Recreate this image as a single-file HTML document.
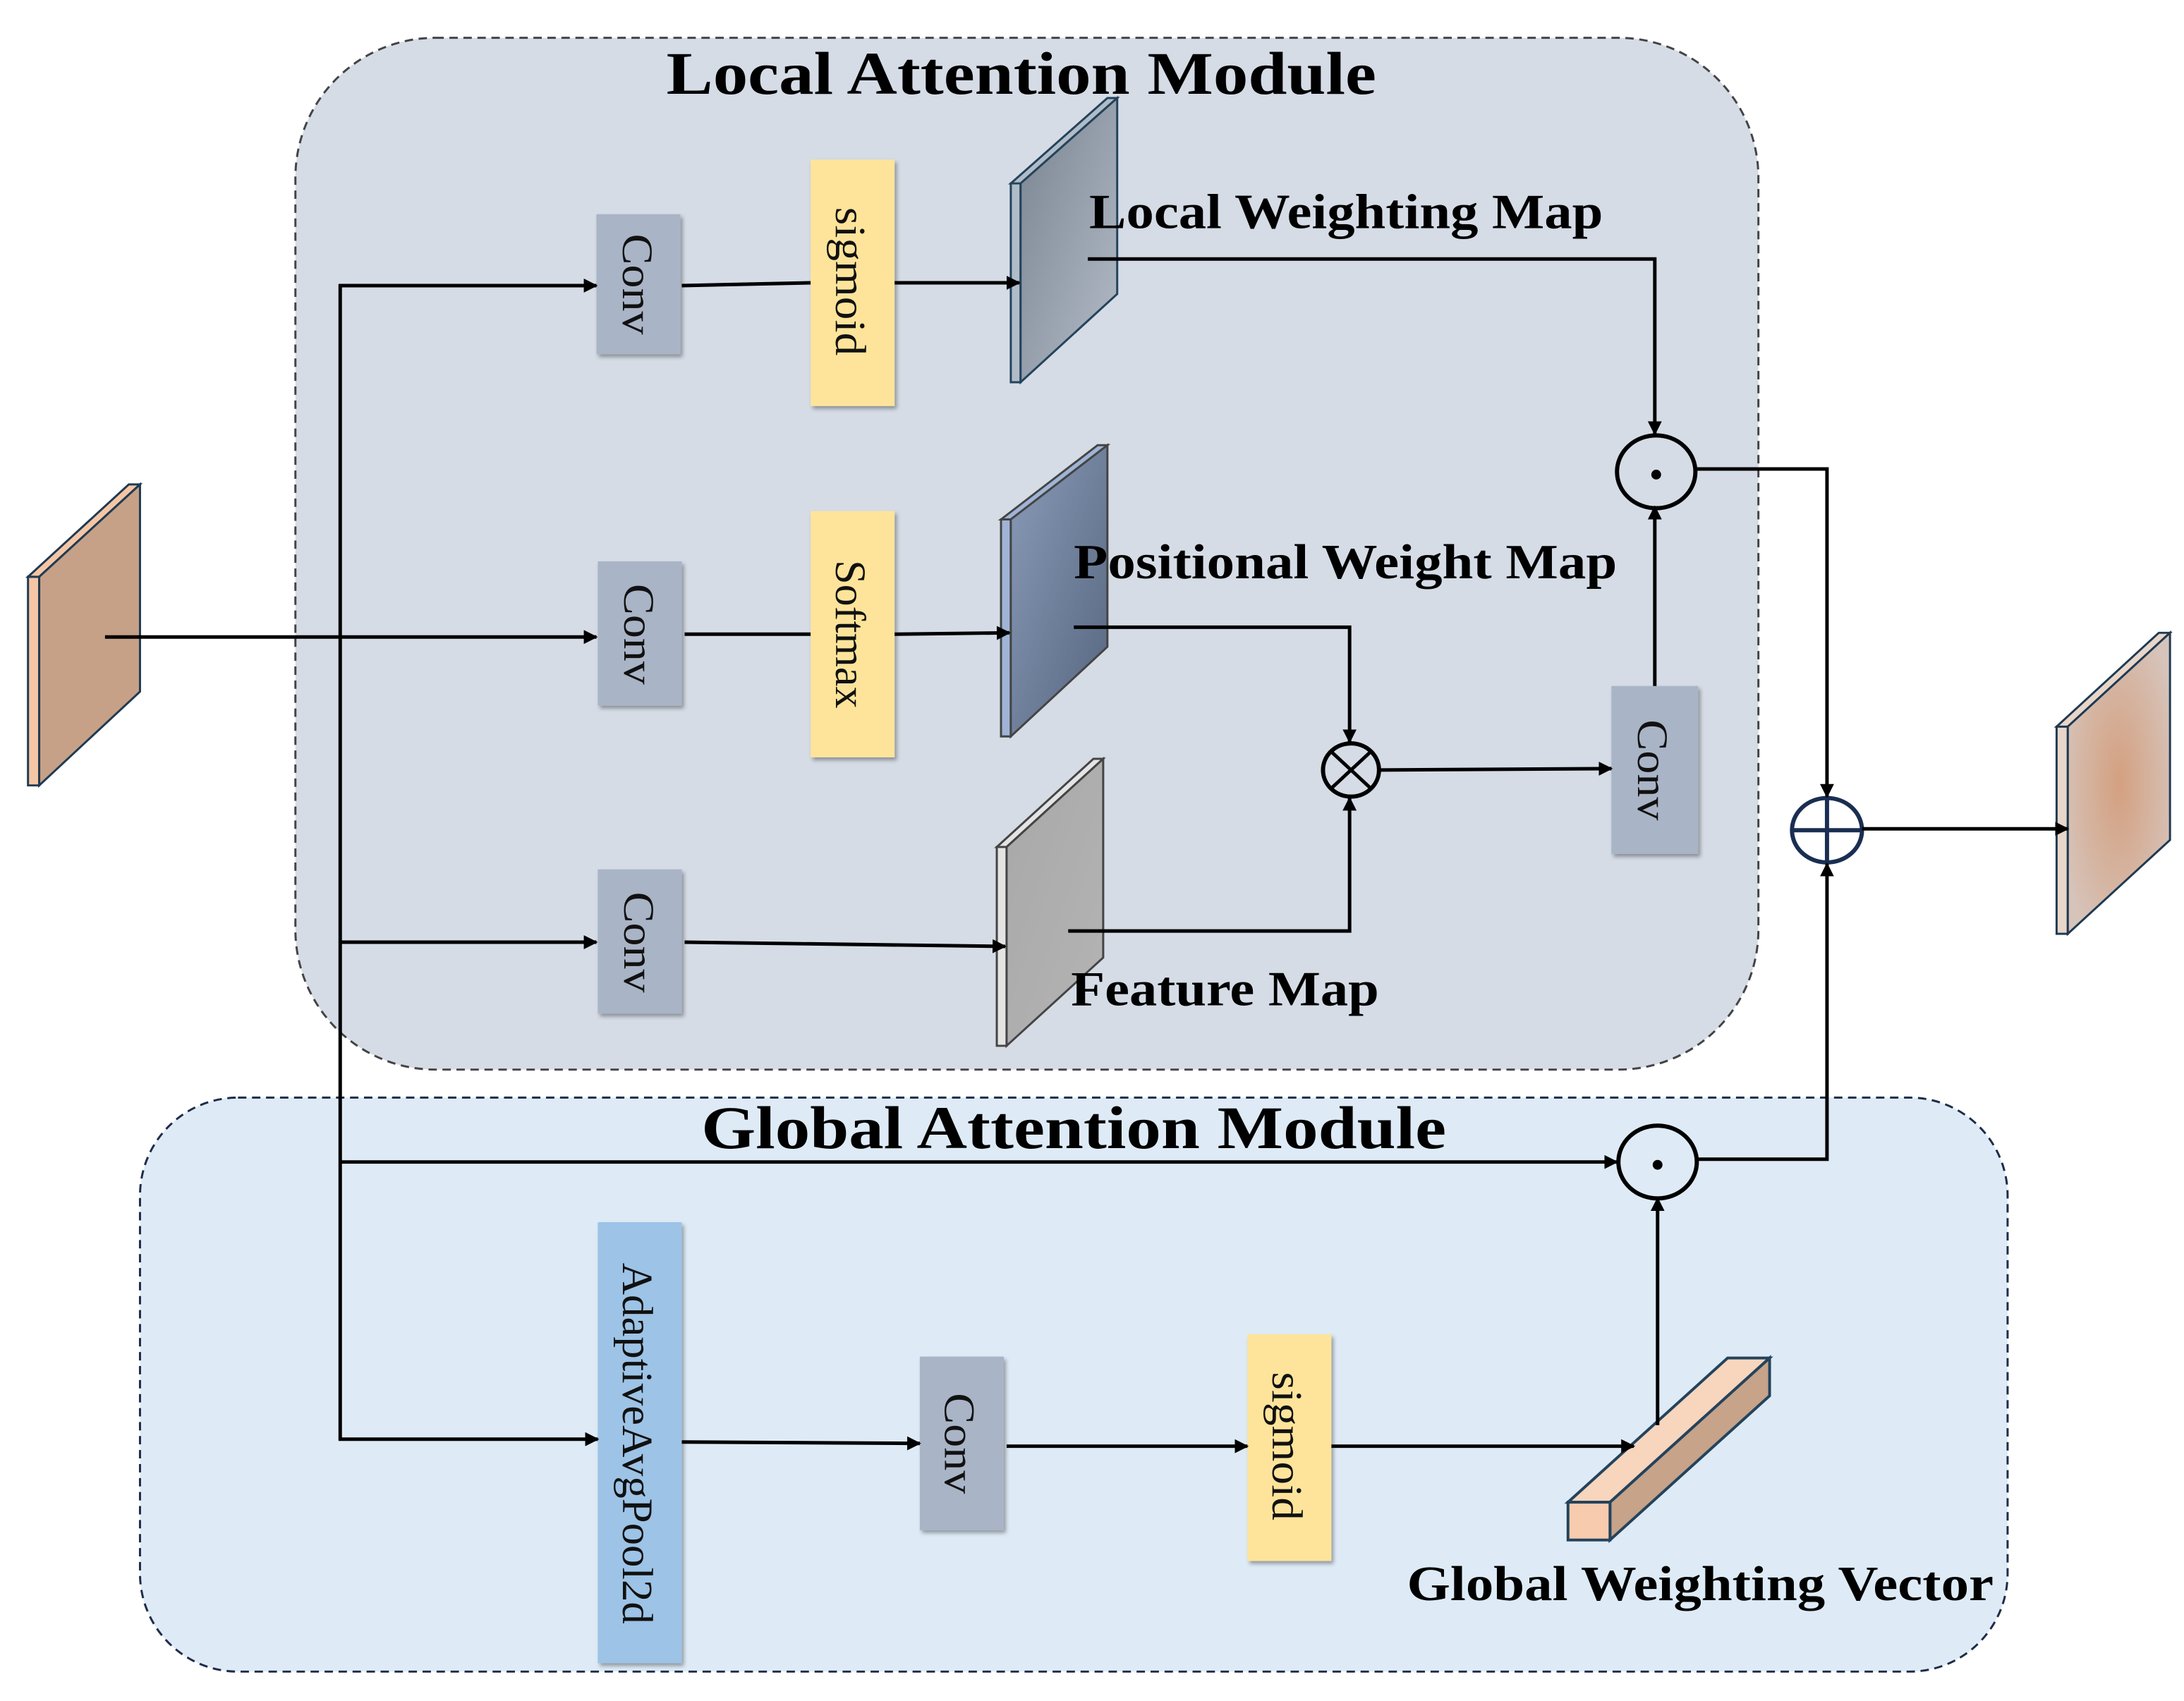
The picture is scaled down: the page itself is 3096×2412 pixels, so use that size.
<!DOCTYPE html>
<html><head><meta charset="utf-8">
<style>
html,body{margin:0;padding:0;background:#fff;}
svg{display:block;}
text{font-family:"Liberation Serif",serif;}
</style></head>
<body>
<svg width="3096" height="2412" viewBox="0 0 1560 1215" preserveAspectRatio="none" xmlns="http://www.w3.org/2000/svg">
<defs>
<marker id="ar" markerWidth="10" markerHeight="10" refX="9" refY="5" orient="auto" markerUnits="userSpaceOnUse">
<path d="M0,0 L10,5 L0,10 Z" fill="#000"/>
</marker>
<linearGradient id="gL" x1="0" y1="0" x2="1" y2="1"><stop offset="0" stop-color="#7a8491"/><stop offset="1" stop-color="#b3bcc7"/></linearGradient>
<linearGradient id="gP" x1="0" y1="0" x2="1" y2="1"><stop offset="0" stop-color="#8a9bb9"/><stop offset="1" stop-color="#56667f"/></linearGradient>
<linearGradient id="gF" x1="0" y1="0" x2="1" y2="1"><stop offset="0" stop-color="#a8a8a8"/><stop offset="1" stop-color="#b4b4b4"/></linearGradient>
<radialGradient id="gO" cx="0.5" cy="0.5" r="0.6"><stop offset="0" stop-color="#d4a080"/><stop offset="1" stop-color="#d6c4bb"/></radialGradient>
<filter id="sh" x="-20%" y="-20%" width="140%" height="140%"><feDropShadow dx="1.5" dy="2" stdDeviation="1.5" flood-color="#000" flood-opacity="0.35"/></filter>
</defs>

<rect x="211" y="27" width="1045" height="737" rx="100" fill="#d5dce6" stroke="#444" stroke-width="1.5" stroke-dasharray="6,4"/>
<rect x="100" y="784" width="1334" height="410" rx="70" fill="#deebf6" stroke="#1e2c48" stroke-width="1.5" stroke-dasharray="6,4"/>
<text x="476" y="67" font-size="43" font-weight="bold" textLength="507" lengthAdjust="spacingAndGlyphs">Local Attention Module</text>
<text x="501" y="820" font-size="43" font-weight="bold" textLength="532" lengthAdjust="spacingAndGlyphs">Global Attention Module</text>

<polygon points="20,412 28,412 28,561 20,561" fill="#f5c6a5" stroke="#1f3a52" stroke-width="1.5"/>
<polygon points="20,412 92,346 100,346 28,412" fill="#f5c6a5" stroke="#1f3a52" stroke-width="1.5"/>
<polygon points="28,412 100,346 100,494 28,561" fill="#c6a187" stroke="#1f3a52" stroke-width="1.5"/>

<polygon points="722,131 729,131 729,273 722,273" fill="#b0bcc8" stroke="#24435c" stroke-width="1.5"/>
<polygon points="722,131 791,70 798,70 729,131" fill="#b0bcc8" stroke="#24435c" stroke-width="1.5"/>
<polygon points="729,131 798,70 798,210 729,273" fill="url(#gL)" stroke="#24435c" stroke-width="1.5"/>

<polygon points="715,371 722,371 722,526 715,526" fill="#9fb4d6" stroke="#444" stroke-width="1.5"/>
<polygon points="715,371 784,318 791,318 722,371" fill="#9fb4d6" stroke="#444" stroke-width="1.5"/>
<polygon points="722,371 791,318 791,462 722,526" fill="url(#gP)" stroke="#444" stroke-width="1.5"/>

<polygon points="712,605 719,605 719,747 712,747" fill="#e4e4e4" stroke="#444" stroke-width="1.5"/>
<polygon points="712,605 781,542 788,542 719,605" fill="#e4e4e4" stroke="#444" stroke-width="1.5"/>
<polygon points="719,605 788,542 788,684 719,747" fill="url(#gF)" stroke="#444" stroke-width="1.5"/>

<polygon points="1469,519 1477,519 1477,667 1469,667" fill="#e8d6ca" stroke="#1f3a52" stroke-width="1.5"/>
<polygon points="1469,519 1542,452 1550,452 1477,519" fill="#e8d6ca" stroke="#1f3a52" stroke-width="1.5"/>
<polygon points="1477,519 1550,452 1550,600 1477,667" fill="url(#gO)" stroke="#1f3a52" stroke-width="1.5"/>

<polygon points="1120,1073 1234,970 1264,970 1150,1073" fill="#f8d5bd" stroke="#24435c" stroke-width="2"/>
<polygon points="1150,1073 1264,970 1264,997 1150,1100" fill="#c6a389" stroke="#24435c" stroke-width="2"/>
<rect x="1120" y="1073" width="30" height="27" fill="#f7cbad" stroke="#24435c" stroke-width="2"/>

<g filter="url(#sh)">
<rect x="426" y="153" width="60" height="100" fill="#a9b4c6"/>
<rect x="427" y="401" width="60" height="103" fill="#a9b4c6"/>
<rect x="427" y="621" width="60" height="103" fill="#a9b4c6"/>
<rect x="579" y="114" width="60" height="176" fill="#fee49a"/>
<rect x="579" y="365" width="60" height="176" fill="#fee49a"/>
<rect x="1151" y="490" width="62" height="120" fill="#a9b4c6"/>
<rect x="427" y="873" width="60" height="315" fill="#9dc3e6"/>
<rect x="657" y="969" width="60" height="124" fill="#a9b4c6"/>
<rect x="891" y="953" width="60" height="162" fill="#fee49a"/>
</g>
<g font-size="31" fill="#111">
<text transform="translate(445,167) rotate(90)" textLength="72" lengthAdjust="spacingAndGlyphs">Conv</text>
<text transform="translate(446,417) rotate(90)" textLength="72" lengthAdjust="spacingAndGlyphs">Conv</text>
<text transform="translate(446,637) rotate(90)" textLength="72" lengthAdjust="spacingAndGlyphs">Conv</text>
<text transform="translate(597,148) rotate(90)" textLength="106" lengthAdjust="spacingAndGlyphs">sigmoid</text>
<text transform="translate(597,400) rotate(90)" textLength="106" lengthAdjust="spacingAndGlyphs">Softmax</text>
<text transform="translate(1170,514) rotate(90)" textLength="72" lengthAdjust="spacingAndGlyphs">Conv</text>
<text transform="translate(445,902) rotate(90)" textLength="258" lengthAdjust="spacingAndGlyphs">AdaptiveAvgPool2d</text>
<text transform="translate(675,995) rotate(90)" textLength="72" lengthAdjust="spacingAndGlyphs">Conv</text>
<text transform="translate(909,980) rotate(90)" textLength="106" lengthAdjust="spacingAndGlyphs">sigmoid</text>
</g>

<ellipse cx="1183" cy="337" rx="28" ry="26" fill="none" stroke="#000" stroke-width="3"/>
<circle cx="1183" cy="339" r="3.5" fill="#000"/>
<ellipse cx="1184" cy="830" rx="28" ry="26" fill="none" stroke="#000" stroke-width="3"/>
<circle cx="1184" cy="832" r="3.5" fill="#000"/>
<ellipse cx="965" cy="550" rx="20" ry="19" fill="none" stroke="#000" stroke-width="3"/>
<line x1="951" y1="537" x2="979" y2="563" stroke="#000" stroke-width="2.5"/>
<line x1="979" y1="537" x2="951" y2="563" stroke="#000" stroke-width="2.5"/>
<ellipse cx="1305" cy="593" rx="25" ry="23" fill="none" stroke="#1a2e52" stroke-width="3"/>
<line x1="1280" y1="593" x2="1330" y2="593" stroke="#1a2e52" stroke-width="3"/>
<line x1="1305" y1="570" x2="1305" y2="616" stroke="#1a2e52" stroke-width="3"/>

<g stroke="#000" stroke-width="2.5" fill="none">
<line x1="75" y1="455" x2="426" y2="455" marker-end="url(#ar)"/>
<line x1="243" y1="203" x2="243" y2="1029"/>
<line x1="242" y1="204" x2="426" y2="204" marker-end="url(#ar)"/>
<line x1="242" y1="673" x2="426" y2="673" marker-end="url(#ar)"/>
<line x1="242" y1="830" x2="1155" y2="830" marker-end="url(#ar)"/>
<line x1="242" y1="1028" x2="427" y2="1028" marker-end="url(#ar)"/>
<polyline points="487,204 579,202"/>
<line x1="639" y1="202" x2="728" y2="202" marker-end="url(#ar)"/>
<line x1="489" y1="453" x2="579" y2="453"/>
<line x1="639" y1="453" x2="721" y2="452" marker-end="url(#ar)"/>
<line x1="489" y1="673" x2="718" y2="676" marker-end="url(#ar)"/>
<polyline points="777,185 1182,185 1182,310" marker-end="url(#ar)"/>
<polyline points="767,448 964,448 964,530" marker-end="url(#ar)"/>
<polyline points="763,665 964,665 964,570" marker-end="url(#ar)"/>
<line x1="985" y1="550" x2="1151" y2="549" marker-end="url(#ar)"/>
<line x1="1182" y1="490" x2="1182" y2="362" marker-end="url(#ar)"/>
<polyline points="1211,335 1305,335 1305,569" marker-end="url(#ar)"/>
<line x1="1330" y1="592" x2="1477" y2="592" marker-end="url(#ar)"/>
<polyline points="1212,828 1305,828 1305,617" marker-end="url(#ar)"/>
<line x1="487" y1="1030" x2="657" y2="1031" marker-end="url(#ar)"/>
<line x1="719" y1="1033" x2="891" y2="1033" marker-end="url(#ar)"/>
<line x1="951" y1="1033" x2="1167" y2="1033" marker-end="url(#ar)"/>
<line x1="1184" y1="1018" x2="1184" y2="856" marker-end="url(#ar)"/>
</g>

<g font-size="35" font-weight="bold" fill="#000">
<text x="778" y="163" textLength="367" lengthAdjust="spacingAndGlyphs">Local Weighting Map</text>
<text x="767" y="413" textLength="388" lengthAdjust="spacingAndGlyphs">Positional Weight Map</text>
<text x="765" y="718" textLength="220" lengthAdjust="spacingAndGlyphs">Feature Map</text>
<text x="1005" y="1143" textLength="419" lengthAdjust="spacingAndGlyphs">Global Weighting Vector</text>
</g>
</svg>
</body></html>
